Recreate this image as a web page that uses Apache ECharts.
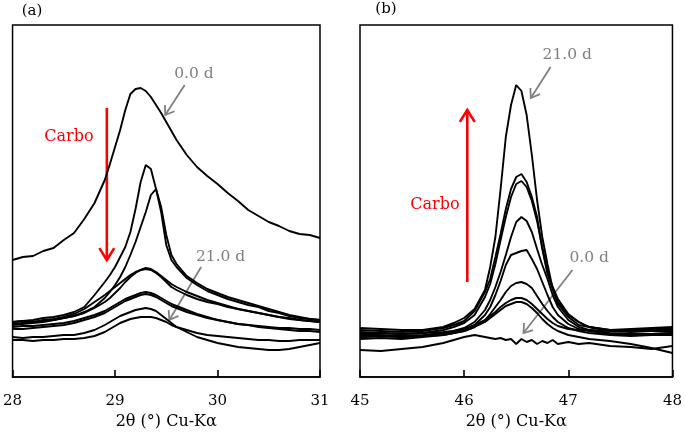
<!DOCTYPE html>
<html><head><meta charset="utf-8">
<script src="https://cdn.jsdelivr.net/npm/echarts@6.0.0/dist/echarts.min.js"></script>
<style>html,body{margin:0;padding:0;background:#fff}#c{width:685px;height:435px}</style>
</head><body><div id="c"></div>
<script>
// ---------- Panel (a): 2θ 28–31 ----------
const xA = [28.0,28.1,28.2,28.3,28.4,28.5,28.6,28.7,28.8,28.9,28.95,29.0,29.05,29.1,29.15,29.2,29.25,29.3,29.35,29.4,29.45,29.5,29.55,29.6,29.7,29.8,29.9,30.0,30.1,30.2,30.3,30.4,30.5,30.6,30.7,30.8,30.9,31.0];
const a0 = [117,120,121,126,129,137,144,158,174,197,213,230,247,267,283,288,289,286,280,272,264,255,246,237,222,210,201,193,184,176,167,161,155,151,146,143,142,139];
const a1 = [55,56,57,59,60,62,65,70,82,95,102,110,120,130,145,168,195,212,208,188,165,132,117,110,99,92,86,82,78,75,72,70,66,64,61,59,58,57];
const a2 = [53,54,55,56,57,59,61,65,70,79,85,92,100,110,122,135,150,165,182,188,170,142,122,113,101,94,88,84,80,77,74,71,68,65,62,60,58,57];
const a3 = [55,56,55,57,58,60,63,68,75,82,86,90,94,98,102,105,107,109,108,105,101,97,93,90,85,81,77,74,71,68,66,64,62,60,58,57,56,55];
const a4 = [52,53,54,55,57,59,61,64,69,75,79,84,89,95,100,104,107,108,107,104,100,95,90,87,82,78,75,73,70,68,66,64,62,60,59,57,56,55];
const a5 = [50,51,51,52,53,54,56,59,62,66,69,72,75,78,80,82,84,85,84,82,79,76,73,71,67,63,60,57,55,53,52,50,49,48,47,46,46,45];
const a6 = [48,48,49,50,51,52,54,57,60,64,67,70,73,76,78,80,82,83,82,80,77,74,71,69,65,62,59,57,55,53,52,51,50,49,49,48,48,47];
const a7 = [40,39,40,40,41,42,42,44,47,52,55,58,61,63,65,67,68,69,68,66,62,58,54,50,45,40,37,34,32,30,29,28,27,27,28,30,32,34];
const a8 = [37,37,36,37,37,38,38,39,41,45,48,51,54,56,58,59,60,60,60,59,57,55,52,50,47,44,42,41,40,39,38,37,37,36,36,37,37,37];
const seriesA = [a0,a1,a2,a3,a4,a5,a6,a7,a8];

// ---------- Panel (b): 2θ 45–48 ----------
const xB = [45.0,45.2,45.4,45.6,45.8,45.9,46.0,46.1,46.2,46.25,46.3,46.35,46.4,46.45,46.5,46.55,46.6,46.65,46.7,46.75,46.8,46.85,46.9,47.0,47.1,47.2,47.4,47.6,47.8,48.0];
const b0 = [49,48,47,47,50,54,59,68,87,110,140,188,240,272,292,286,262,222,177,140,113,88,73,60,52,50,47,48,49,50];
const b1 = [47,46,45,46,49,52,56,66,85,98,120,143,168,188,200,203,195,180,160,128,103,88,75,62,55,50,47,46,47,47];
const b2 = [44,44,43,44,47,50,54,62,80,93,113,137,160,180,193,196,190,176,156,130,106,90,78,63,55,50,46,45,46,46];
const b3 = [42,42,41,42,44,46,49,55,67,77,90,105,122,140,155,160,156,145,128,112,98,82,70,57,50,47,44,43,43,44];
const b4 = [40,41,40,41,43,44,47,52,62,70,82,96,112,122,124,126,127,118,108,95,82,70,62,53,48,46,43,42,43,44];
const b5 = [38,39,38,40,42,44,46,50,57,63,70,77,85,91,94,95,93,89,81,73,66,60,55,49,46,44,42,41,42,42];
const b6 = [45,44,43,44,45,46,48,52,57,61,65,70,74,77,79,79,77,73,68,63,58,54,51,48,47,47,46,47,48,48];
const b7 = [40,41,40,41,42,44,46,50,55,59,63,67,71,73,75,75,73,69,64,58,53,49,46,42,40,38,36,33,29,24];
const b8 = [27,26,28,30,34,37,40,42,40,39,38,39,37,38,33,38,35,37,33,36,34,37,33,35,33,34,31,30,28,31];
const seriesB = [b0,b1,b2,b3,b4,b5,b6,b7,b8];

const xTicksA = {min:28, max:31, interval:1};
const xTicksB = {min:45, max:48, interval:1};
const axisTitle = '2θ (°) Cu-Kα';
const panelLabels = ['(a)', '(b)'];

// annotations (data coordinates)
const annTexts = [
  {g:0, text:'0.0 d', at:[29.77,303], color:'#808080'},
  {g:0, text:'Carbo', at:[28.55,240], color:'#ff0000'},
  {g:0, text:'21.0 d', at:[30.03,120], color:'#808080'},
  {g:1, text:'21.0 d', at:[46.99,322], color:'#808080'},
  {g:1, text:'Carbo', at:[45.72,172], color:'#ff0000'},
  {g:1, text:'0.0 d', at:[47.20,119], color:'#808080'}
];
const annArrows = [
  {g:0, from:[29.68,292], to:[29.49,262], color:'#808080', w:1.8, head:10, ang:35},
  {g:0, from:[28.92,269], to:[28.92,117], color:'#ff0000', w:2.6, head:14, ang:32},
  {g:0, from:[29.84,110], to:[29.53,57], color:'#808080', w:1.8, head:10, ang:35},
  {g:1, from:[46.83,310], to:[46.64,279], color:'#808080', w:1.8, head:10, ang:35},
  {g:1, from:[46.03,95], to:[46.03,267], color:'#ff0000', w:2.6, head:14, ang:32},
  {g:1, from:[47.04,107], to:[46.57,44], color:'#808080', w:1.8, head:10, ang:35}
];

const FONT = '"DejaVu Serif", "Liberation Serif", serif';

function makeX(g, t){
  return {
    gridIndex:g, type:'value', min:t.min, max:t.max, interval:t.interval,
    name:axisTitle, nameLocation:'middle', nameGap:36,
    nameTextStyle:{fontFamily:FONT, fontSize:16, color:'#000'},
    axisLine:{show:true, onZero:false, lineStyle:{color:'#000', width:1.6}},
    axisTick:{show:true, inside:true, length:7, lineStyle:{color:'#000', width:1.6}},
    axisLabel:{fontFamily:FONT, fontSize:15, color:'#000', margin:17, showMinLabel:true, showMaxLabel:true},
    splitLine:{show:false}
  };
}
function makeY(g){
  return {gridIndex:g, type:'value', min:0, max:352, show:false, splitLine:{show:false}};
}
function makeSeries(g, xs, ys){
  return {
    type:'line', xAxisIndex:g, yAxisIndex:g,
    data: xs.map((x,i)=>[x, ys[i]]),
    showSymbol:false, symbol:'none', silent:true,
    lineStyle:{color:'#000', width:1.9}
  };
}

const chart = echarts.init(document.getElementById('c'));
chart.setOption({
  animation:false,
  backgroundColor:'#fff',
  grid:[
    {left:9, top:25, width:311, height:352, show:true, borderColor:'#000', borderWidth:1.5},
    {left:360, top:25, width:316, height:352, show:true, borderColor:'#000', borderWidth:1.5}
  ],
  xAxis:[makeX(0,xTicksA), makeX(1,xTicksB)],
  yAxis:[makeY(0), makeY(1)],
  series:[
    ...seriesA.map(s=>makeSeries(0,xA,s)),
    ...seriesB.map(s=>makeSeries(1,xB,s))
  ]
});

const gr = [];
function txt(x, y, text, color, size){
  return {type:'text', x:x, y:y, style:{text:text, fill:color, font:size+'px '+FONT, align:'center', verticalAlign:'middle', textAlign:'center', textVerticalAlign:'middle'}};
}
gr.push(txt(32, 11, panelLabels[0], '#000', 15));
gr.push(txt(386, 9, panelLabels[1], '#000', 15));
annTexts.forEach(a=>{
  const p = chart.convertToPixel({gridIndex:a.g}, a.at);
  gr.push(txt(p[0], p[1], a.text, a.color, a.text === 'Carbo' ? 16 : 15.5));
});
annArrows.forEach(a=>{
  const p0 = chart.convertToPixel({gridIndex:a.g}, a.from);
  const p1 = chart.convertToPixel({gridIndex:a.g}, a.to);
  const dx = p1[0]-p0[0], dy = p1[1]-p0[1];
  const L = Math.hypot(dx,dy), ux = dx/L, uy = dy/L;
  const t = a.ang*Math.PI/180;
  const h1 = [p1[0] - a.head*(ux*Math.cos(t) - uy*Math.sin(t)), p1[1] - a.head*(uy*Math.cos(t) + ux*Math.sin(t))];
  const h2 = [p1[0] - a.head*(ux*Math.cos(t) + uy*Math.sin(t)), p1[1] - a.head*(uy*Math.cos(t) - ux*Math.sin(t))];
  gr.push({type:'line', shape:{x1:p0[0], y1:p0[1], x2:p1[0], y2:p1[1]}, style:{stroke:a.color, lineWidth:a.w}});
  gr.push({type:'polyline', shape:{points:[h1,p1,h2]}, style:{stroke:a.color, lineWidth:a.w, fill:null}});
});
chart.setOption({graphic:gr});
</script>
</body></html>
